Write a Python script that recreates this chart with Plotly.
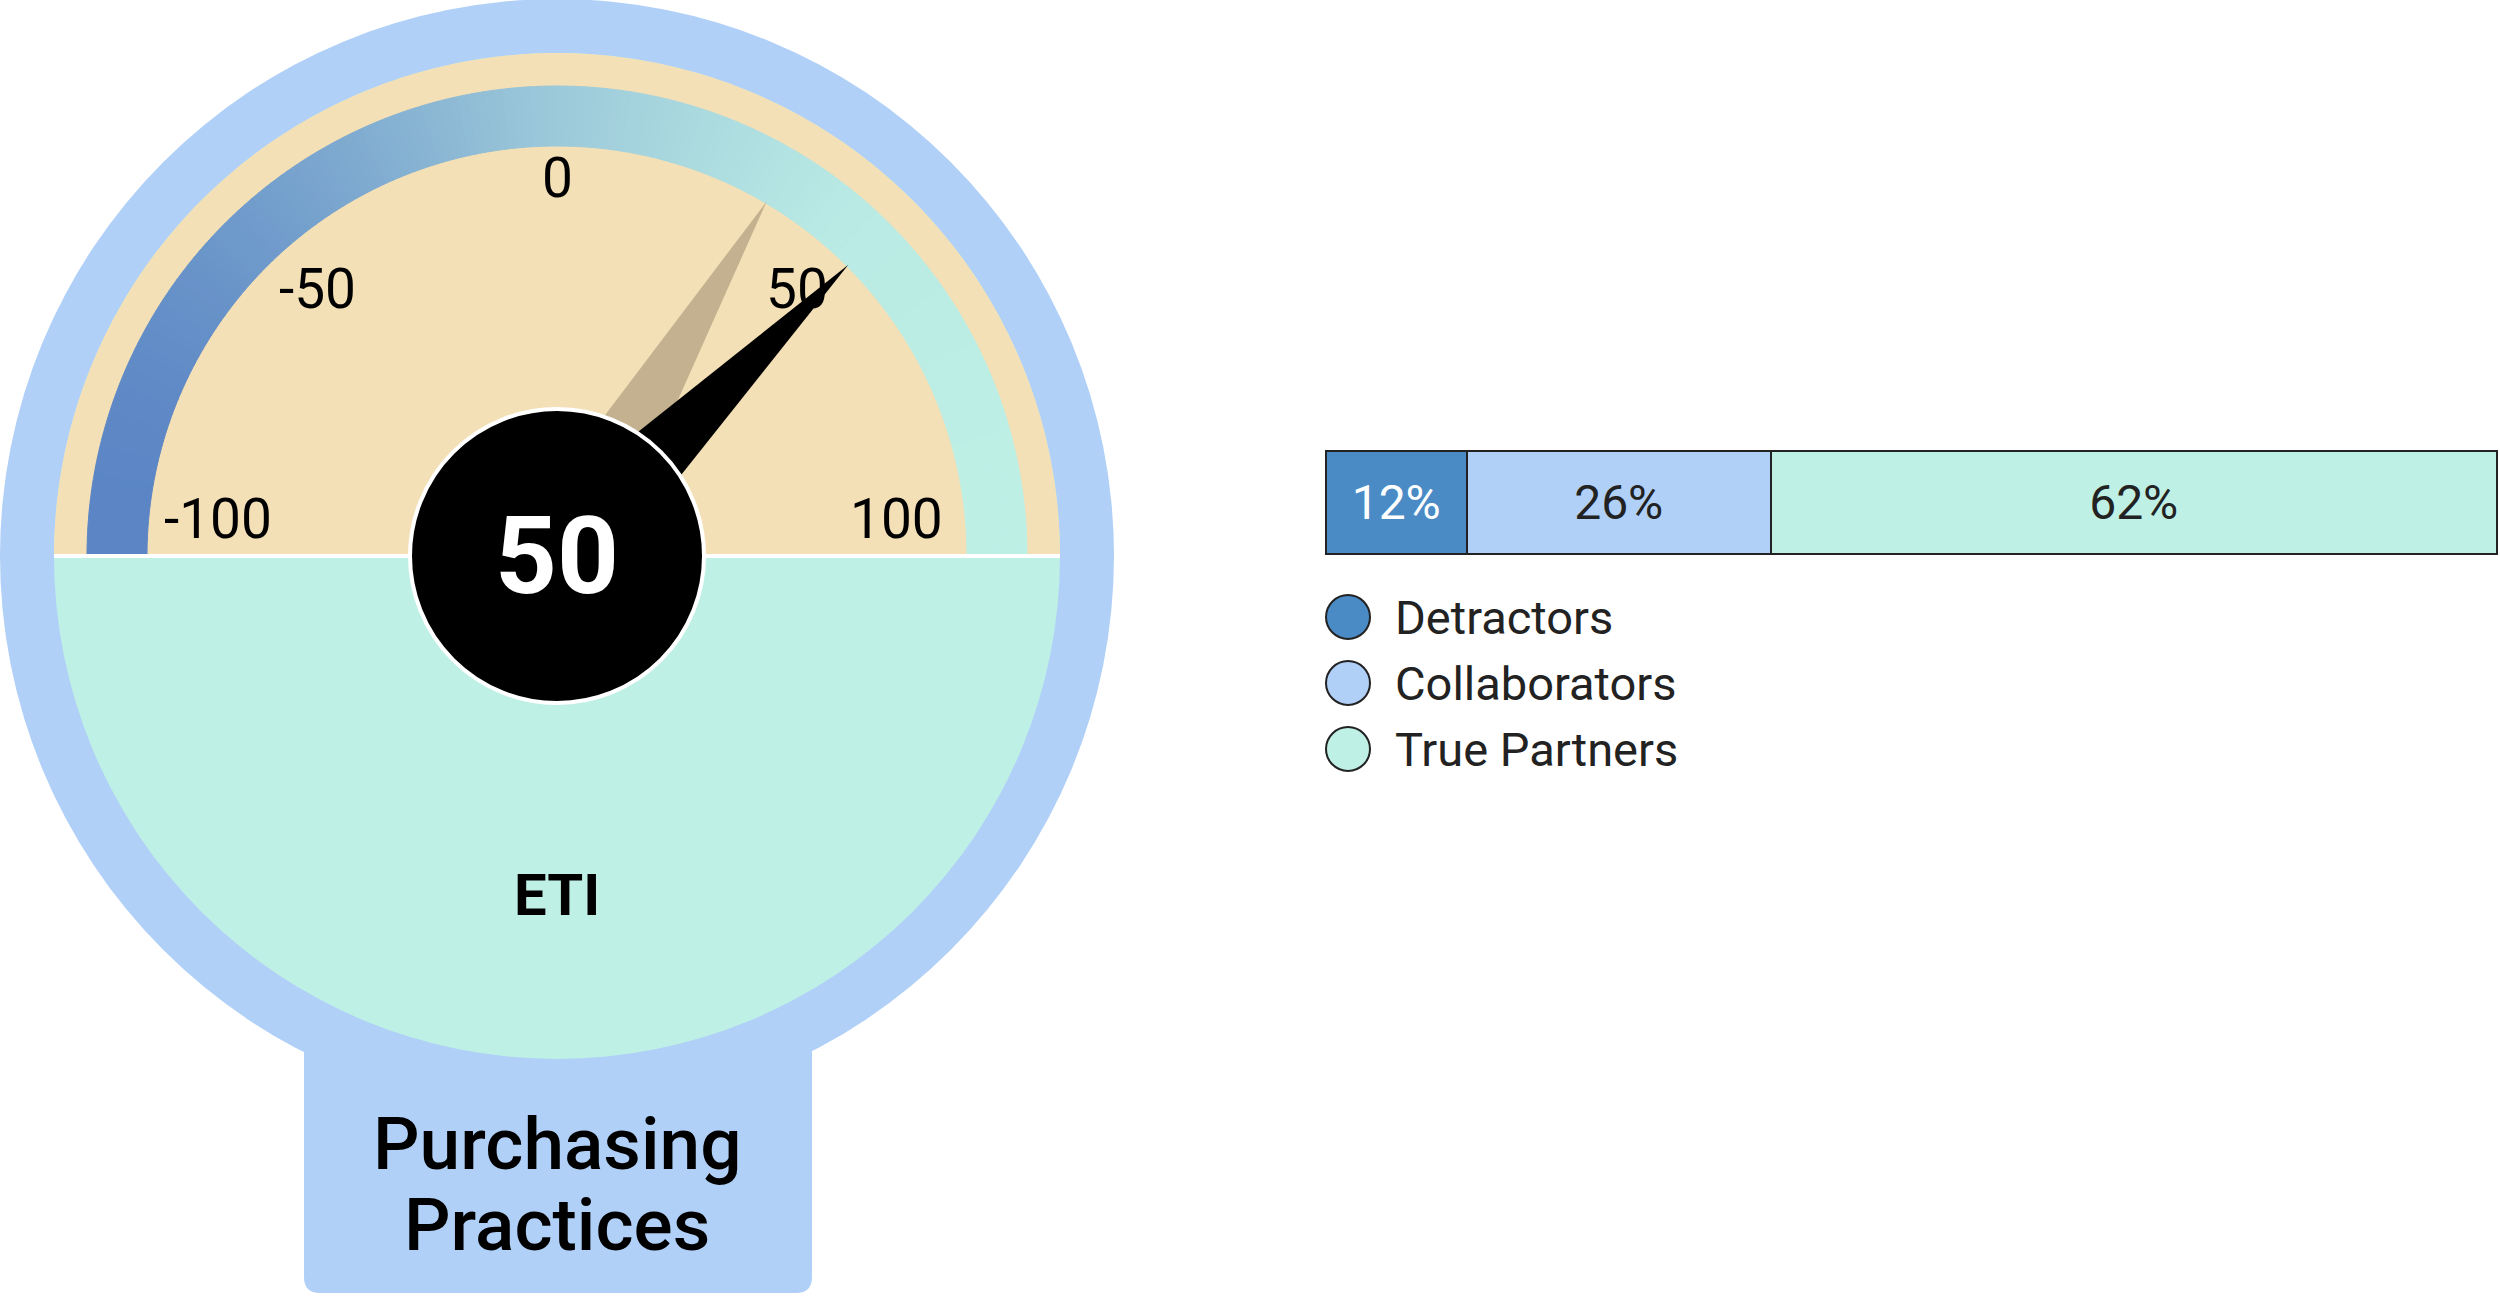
import numpy as np
import plotly.graph_objects as go

W, H = 2500, 1296

# data
score = 50
benchmark = 34
gauge_min, gauge_max = -100, 100
tick_values = [-100, -50, 0, 50, 100]
gauge_label = "ETI"
title_lines = ["Purchasing", "Practices"]
groups = ["Detractors", "Collaborators", "True Partners"]
shares = [12, 26, 62]

# styles
group_colors = ["#4A8BC6", "#B0D0F8", "#BFF0E5"]
group_text = ["white", "#222222", "#222222"]
band_stops = [(0.0, (86, 128, 195)), (0.5, (157, 202, 218)),
              (0.8, (185, 234, 228)), (1.0, (191, 240, 229))]
FONT = "Roboto"

# gauge geometry (pixels)
cx, cy = 557, 556
R_OUT, R_FACE = 557, 503
R_BAND_OUT, R_BAND_IN = 470, 410
R_HUB, R_NEEDLE, NEEDLE_W = 147, 412, 47


def angle(v):
    return np.pi * (gauge_max - v) / (gauge_max - gauge_min)


def pt(r, a):
    return cx + r * np.cos(a), cy - r * np.sin(a)


def path(points):
    return "M " + " L ".join(f"{x:.2f},{y:.2f}" for x, y in points) + " Z"


def band_color(x):
    t = (x - (cx - R_BAND_OUT)) / (2 * R_BAND_OUT)
    t = min(max(t, 0), 1)
    for (t0, c0), (t1, c1) in zip(band_stops[:-1], band_stops[1:]):
        if t <= t1:
            f = (t - t0) / (t1 - t0)
            c = [round(a + (b - a) * f) for a, b in zip(c0, c1)]
            return f"rgb({c[0]},{c[1]},{c[2]})"
    return "rgb(191,240,229)"


def needle(v):
    a = angle(v)
    tip = pt(R_NEEDLE, a)
    px, py = np.sin(a), np.cos(a)
    return path([tip, (cx + NEEDLE_W * px, cy + NEEDLE_W * py),
                 (cx - NEEDLE_W * px, cy - NEEDLE_W * py)])


shapes = []
# outer ring and tab
shapes.append(dict(type="circle", x0=cx - R_OUT, x1=cx + R_OUT, y0=cy - R_OUT, y1=cy + R_OUT,
                   fillcolor="#B0D0F8", line_width=0))
shapes.append(dict(type="path",
                   path="M 304,1000 L 304,1277 Q 304,1293 320,1293 L 796,1293 "
                        "Q 812,1293 812,1277 L 812,1000 Z",
                   fillcolor="#B0D0F8", line_width=0))
# face: mint lower, beige upper
shapes.append(dict(type="circle", x0=cx - R_FACE, x1=cx + R_FACE, y0=cy - R_FACE, y1=cy + R_FACE,
                   fillcolor="#BFF0E5", line_width=0))
arc = np.linspace(0, np.pi, 181)
shapes.append(dict(type="path", path=path([pt(R_FACE, a) for a in arc]),
                   fillcolor="#F4E0B7", line_width=0))
# gradient band
n_seg = 160
edges = np.linspace(0, np.pi, n_seg + 1)
for a0, a1 in zip(edges[:-1], edges[1:]):
    sub = np.linspace(a0, a1, 4)
    pts = [pt(R_BAND_OUT, a) for a in sub] + [pt(R_BAND_IN, a) for a in sub[::-1]]
    col = band_color(pt((R_BAND_OUT + R_BAND_IN) / 2, (a0 + a1) / 2)[0])
    shapes.append(dict(type="path", path=path(pts), fillcolor=col,
                       line=dict(color=col, width=1)))
# separator
shapes.append(dict(type="line", x0=cx - R_FACE, x1=cx + R_FACE, y0=cy, y1=cy,
                   line=dict(color="white", width=4)))
# needles
shapes.append(dict(type="path", path=needle(benchmark), fillcolor="#C4B18F", line_width=0))
shapes.append(dict(type="path", path=needle(score), fillcolor="black", line_width=0))
# hub
shapes.append(dict(type="circle", x0=cx - R_HUB, x1=cx + R_HUB, y0=cy - R_HUB, y1=cy + R_HUB,
                   fillcolor="black", line=dict(color="white", width=4)))
for s in shapes:
    s.update(xref="x", yref="y", layer="below")

annotations = []
for v in tick_values:
    a = angle(v)
    x = cx + 339 * np.cos(a)
    y = min(cy - 378 * np.sin(a), cy - 37)
    annotations.append(dict(x=x, y=y, text=str(v), showarrow=False,
                            font=dict(family=FONT, size=55, color="black")))
annotations.append(dict(x=cx, y=cy, text=str(score), showarrow=False,
                        font=dict(family=FONT, size=108, color="white", weight="bold")))
annotations.append(dict(x=cx, y=895, text=gauge_label, showarrow=False,
                        font=dict(family=FONT, size=58, color="black", weight="bold")))
for i, line in enumerate(title_lines):
    annotations.append(dict(x=cx, y=1144 + 81 * i, text=line, showarrow=False,
                            font=dict(family=FONT, size=73, color="black", weight=500)))
for i, g in enumerate(groups):
    annotations.append(dict(x=1393, y=617 + 66 * i, text=g, showarrow=False, xanchor="left",
                            font=dict(family=FONT, size=47, color="#222222")))
for a in annotations:
    a.update(xref="x", yref="y")

fig = go.Figure()
for g, v, c, tc in zip(groups, shares, group_colors, group_text):
    fig.add_trace(go.Bar(x=[v], y=[0], orientation="h", name=g, width=1,
                         xaxis="x2", yaxis="y2",
                         marker=dict(color=c, line=dict(color="#222222", width=2)),
                         text=[f"{v}%"], textposition="inside", insidetextanchor="middle",
                         textfont=dict(family=FONT, size=48, color=tc),
                         hoverinfo="skip"))
fig.add_trace(go.Scatter(x=[1348] * len(groups), y=[617 + 66 * i for i in range(len(groups))],
                         mode="markers", hoverinfo="skip",
                         marker=dict(size=44, color=group_colors,
                                     line=dict(color="#222222", width=2))))

fig.update_layout(
    width=W, height=H, margin=dict(l=0, r=0, t=0, b=0),
    paper_bgcolor="white", plot_bgcolor="rgba(0,0,0,0)",
    showlegend=False, barmode="stack", bargap=0,
    xaxis=dict(range=[0, W], domain=[0, 1], visible=False, fixedrange=True),
    yaxis=dict(range=[H, 0], domain=[0, 1], visible=False, fixedrange=True),
    xaxis2=dict(range=[-0.2, 100.2], domain=[1323.7 / W, 2499.4 / W], anchor="y2",
                visible=False, fixedrange=True),
    yaxis2=dict(range=[-0.52, 0.52], domain=[1 - 556 / H, 1 - 449 / H], anchor="x2",
                visible=False, fixedrange=True),
    shapes=shapes, annotations=annotations,
)

fig.write_html("out.html", config={"displayModeBar": False},
               post_script="document.body.style.margin='0';document.body.style.overflow='hidden';")
